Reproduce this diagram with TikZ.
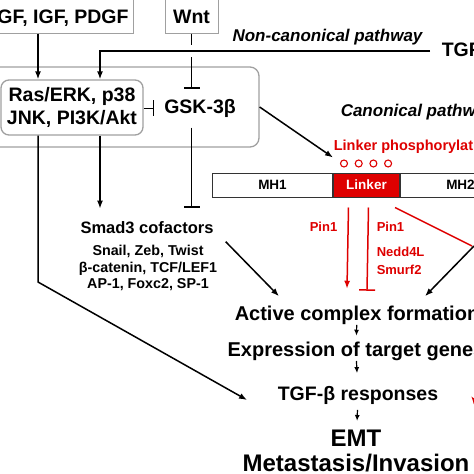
\documentclass[tikz,border=0pt]{standalone}
\usepackage{fontspec}
\setmainfont{Liberation Sans}
\usepackage{tikz}
\usetikzlibrary{arrows.meta, positioning, calc}
\definecolor{smadred}{RGB}{222,0,0}
\definecolor{boxgray}{RGB}{160,160,160}
\newcommand{\setfs}[2]{\fontsize{#1}{#2}\selectfont\bfseries}

\begin{document}
\begin{tikzpicture}[x=1pt, y=-1pt, line width=1.5pt, >={Latex[length=8pt,width=6pt]},
        every node/.style={inner sep=0pt},
        topbox/.style={draw=boxgray, line width=1pt, minimum height=38pt, text height=18.5pt, text depth=0pt, font=\setfs{19.5}{22}},
        grpbox/.style={draw=boxgray, line width=1.3pt, rounded corners=9pt},
        lbl/.style={font=\setfs{19.5}{23.3}},
        flow/.style={font=\setfs{20}{22}, anchor=base},
        redlbl/.style={font=\setfs{13}{16}, text=smadred},
        dom/.style={draw=black!80, line width=1pt, minimum width=120pt, minimum height=24pt, font=\setfs{13.5}{16}, anchor=west},
        inhib/.style={-{Bar[width=16pt]}},
        flowarr/.style={-{Latex[length=6pt,width=5pt]}, line width=1.2pt}]
    \useasboundingbox (0,0) rectangle (474,474);
    \clip (0,0) rectangle (474,474);
    % kinase block
    \node[grpbox, minimum width=270pt, minimum height=80pt] (outer) at (124,107) {};
    \node[grpbox, rounded corners=8pt, minimum width=142pt, minimum height=55pt, align=center, lbl] (rasbox) at (72,107.5) {Ras/ERK, p38\\JNK, PI3K/Akt};
    \node[lbl, inner sep=9.5pt, anchor=base] (gsk) at (200,113.3) {GSK-3β};
    % ligands
    \node[topbox, minimum width=140pt] (gf) at (63,14) {GF, IGF, PDGF};
    \node[topbox, minimum width=53pt] (wnt) at (191.5,14) {Wnt};
    \node[lbl, anchor=west, inner xsep=11pt] (tgf) at (430,51) {TGF-β};
    % Smad3 protein
    \node[dom] (mh1) at (212,185) {MH1};
    \node[dom, minimum width=66pt, fill=smadred, text=white] (linker) at (mh1.east) {Linker};
    \node[dom] (mh2) at (linker.east) {MH2};
    \foreach \i in {0,...,3}
        \draw[smadred, line width=1.1pt] ([xshift={11pt+\i*14.7pt}, yshift=9pt]linker.north west) circle (3.5pt);
    \node[font=\setfs{14.5}{16}, text=smadred, anchor=base west] (phos) at (333,150) {Linker phosphorylation};
    \node[font=\setfs{17}{17}\itshape, anchor=base west] (canon) at (340,116) {Canonical pathway};
    % cofactors
    \node[font=\setfs{16.5}{16.5}, anchor=base] (smadcof) at (147,233.3) {Smad3 cofactors};
    \node[font=\setfs{14.3}{16.7}, align=center] (cofs) at (148,268) {Snail, Zeb, Twist\\β-catenin, TCF/LEF1\\AP-1, Foxc2, SP-1};
    \node[redlbl, anchor=base east] (pina) at (338,231.7) {Pin1};
    \node[redlbl, anchor=base west] (pinb) at (376,231.7) {Pin1};
    \node[redlbl, anchor=base west] (nedd) at (376,256) {Nedd4L};
    \node[redlbl, anchor=base west] (smurf) at (376,274) {Smurf2};
    % responses
    \node[flow] (active) at (357,320) {Active complex formation};
    \node[flow] (expr) at (356,356) {Expression of target genes};
    \node[flow, font=\setfs{19.5}{22}] (resp) at (358,400) {TGF-β responses};
    \node[font=\setfs{24}{25}, align=center, anchor=north] (emt) at (356,429) {EMT\\Metastasis/Invasion};

    \coordinate (lcol) at (38,0);
    \coordinate (ncol) at (100,0);
    \coordinate (lbend) at (38,282);
    \coordinate (mhjoin) at (472,246);
    \coordinate (tgfin) at (490,420);

    \draw[->] (gf.south -| lcol) -- (rasbox.north -| lcol);
    \draw[inhib] (wnt.south) -- (gsk.north -| wnt.south);
    \draw[white, line width=12pt] (tgf.west) -- (tgf.west -| ncol);
    \draw[->] (tgf.west) -- (tgf.west -| ncol) -- (rasbox.north -| ncol);
    \node[font=\setfs{17}{17}\itshape, anchor=base] (noncan) at (327.5,41.5) {Non-canonical pathway};
    \draw[inhib] (rasbox.east |- gsk.west) -- (gsk.west);
    \draw[->] (outer.east) -- ([yshift=15pt]linker.north west);
    \draw[->, shorten >=12pt] (rasbox.south -| ncol) -- (smadcof.north -| ncol);
    \draw[inhib, shorten >=13pt] (gsk.south -| wnt.south) -- (smadcof.north -| wnt.south);
    \draw[->] (rasbox.south -| lcol) -- (lbend) -- ([xshift=-30pt]resp.base west);
    \draw[->] ([xshift=11.5pt, yshift=-7.5pt]smadcof.south east) -- ([xshift=-78pt, yshift=8.5pt]active.north);

    \draw[smadred, ->] ([xshift=-18pt, yshift=-10pt]linker.south) -- ([xshift=-10pt, yshift=16pt]active.north);
    \draw[smadred, inhib] ([xshift=2pt, yshift=-10pt]linker.south) -- ([xshift=10pt, yshift=14pt]active.north);
    \draw[smadred] ([xshift=-5pt, yshift=-10pt]linker.south east) -- (mhjoin);
    \draw[->] ([xshift=2pt]mhjoin) -- ([xshift=68pt, yshift=8.5pt]active.north);
    \draw[smadred, ->] (tgfin) -- ([xshift=113pt, yshift=-11pt]resp.north);

    \draw[flowarr, shorten >=5pt] (active) -- (expr);
    \draw[flowarr, shorten >=12pt] (expr) -- (resp);
    \draw[flowarr, shorten <=5pt, shorten >=8pt] (resp) -- (emt);
\end{tikzpicture}
\end{document}
